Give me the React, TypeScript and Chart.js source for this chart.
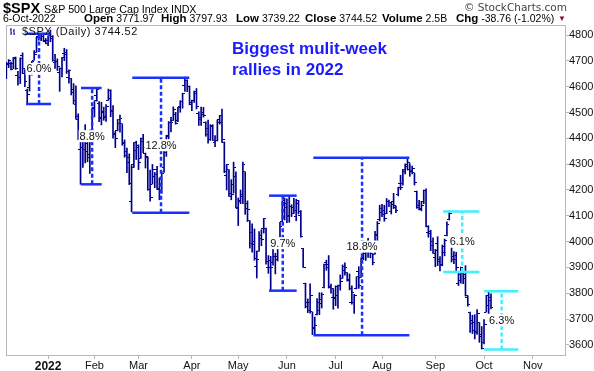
import React, { useEffect, useRef } from 'react';
import { Chart, registerables } from 'chart.js';

Chart.register(...registerables);

// ---- trading days (Dec 7 2021 .. Oct 6 2022) ----
const DAYS_2021_12 = [7, 8, 9, 10, 13, 14, 15, 16, 17, 20, 21, 22, 23, 27, 28, 29, 30, 31];
const DAYS_2022_01 = [3, 4, 5, 6, 7, 10, 11, 12, 13, 14, 18, 19, 20, 21, 24, 25, 26, 27, 28, 31];
const DAYS_2022_02 = [1, 2, 3, 4, 7, 8, 9, 10, 11, 14, 15, 16, 17, 18, 22, 23, 24, 25, 28];
const DAYS_2022_03 = [1, 2, 3, 4, 7, 8, 9, 10, 11, 14, 15, 16, 17, 18, 21, 22, 23, 24, 25, 28, 29, 30, 31];
const DAYS_2022_04 = [1, 4, 5, 6, 7, 8, 11, 12, 13, 14, 18, 19, 20, 21, 22, 25, 26, 27, 28, 29];
const DAYS_2022_05 = [2, 3, 4, 5, 6, 9, 10, 11, 12, 13, 16, 17, 18, 19, 20, 23, 24, 25, 26, 27, 31];
const DAYS_2022_06 = [1, 2, 3, 6, 7, 8, 9, 10, 13, 14, 15, 16, 17, 21, 22, 23, 24, 27, 28, 29, 30];
const DAYS_2022_07 = [1, 5, 6, 7, 8, 11, 12, 13, 14, 15, 18, 19, 20, 21, 22, 25, 26, 27, 28, 29];
const DAYS_2022_08 = [1, 2, 3, 4, 5, 8, 9, 10, 11, 12, 15, 16, 17, 18, 19, 22, 23, 24, 25, 26, 29, 30, 31];
const DAYS_2022_09 = [1, 2, 6, 7, 8, 9, 12, 13, 14, 15, 16, 19, 20, 21, 22, 23, 26, 27, 28, 29, 30];
const DAYS_2022_10 = [3, 4, 5, 6];

const MONTHS: [string, number[]][] = [
  ['2021-12', DAYS_2021_12], ['2022-01', DAYS_2022_01], ['2022-02', DAYS_2022_02],
  ['2022-03', DAYS_2022_03], ['2022-04', DAYS_2022_04], ['2022-05', DAYS_2022_05],
  ['2022-06', DAYS_2022_06], ['2022-07', DAYS_2022_07], ['2022-08', DAYS_2022_08],
  ['2022-09', DAYS_2022_09], ['2022-10', DAYS_2022_10],
];
const DATES: string[] = MONTHS.flatMap(([m, ds]) => ds.map((d) => `${m}-${String(d).padStart(2, '0')}`));

// ---- OHLC ----
const OPEN = [
  4631, 4690, 4691, 4688, 4711, 4642, 4637, 4719, 4652, 4587, 4595, 4650, 4703, 4733, 4795, 4788, 4795, 4776,
  4778, 4804, 4788, 4693, 4697, 4655, 4669, 4728, 4733, 4637, 4632, 4588, 4548, 4472, 4357, 4366, 4408, 4380, 4337, 4431,
  4519, 4566, 4535, 4482, 4505, 4480, 4547, 4553, 4506, 4413, 4430, 4456, 4456, 4385, 4332, 4324, 4155, 4298, 4354,
  4364, 4322, 4401, 4343, 4327, 4202, 4223, 4253, 4279, 4202, 4189, 4289, 4346, 4407, 4462, 4469, 4494, 4470, 4522, 4541, 4603, 4624, 4599,
  4540, 4547, 4572, 4495, 4474, 4494, 4462, 4438, 4397, 4449, 4385, 4390, 4473, 4490, 4385, 4255, 4279, 4187, 4222, 4253,
  4130, 4159, 4181, 4270, 4128, 4081, 4035, 3990, 3903, 3963, 4013, 4052, 4052, 3900, 3927, 3920, 3943, 3929, 3985, 4077, 4151,
  4149, 4096, 4137, 4134, 4097, 4148, 4102, 3974, 3838, 3763, 3765, 3728, 3665, 3716, 3733, 3774, 3821, 3920, 3913, 3826, 3785,
  3781, 3792, 3831, 3858, 3888, 3880, 3851, 3763, 3764, 3818, 3883, 3861, 3935, 3955, 3999, 3966, 3953, 3951, 4027, 4087,
  4112, 4105, 4108, 4154, 4116, 4156, 4133, 4181, 4227, 4225, 4270, 4290, 4281, 4273, 4266, 4195, 4133, 4126, 4154, 4199, 4034, 4041, 4000,
  3937, 3994, 3931, 3910, 3959, 4022, 4084, 3983, 3941, 3932, 3836, 3849, 3875, 3871, 3782, 3727, 3682, 3687, 3651, 3687, 3633,
  3609, 3727, 3753, 3772,
];
const HIGH = [
  4694, 4705, 4695, 4713, 4715, 4660, 4712, 4731, 4666, 4591, 4652, 4698, 4740, 4791, 4807, 4804, 4808, 4787,
  4797, 4819, 4798, 4725, 4708, 4673, 4714, 4749, 4744, 4665, 4632, 4612, 4603, 4495, 4417, 4411, 4453, 4429, 4432, 4517,
  4546, 4595, 4542, 4540, 4521, 4531, 4591, 4588, 4527, 4427, 4473, 4490, 4456, 4394, 4362, 4340, 4295, 4385, 4389,
  4375, 4401, 4416, 4343, 4328, 4277, 4299, 4268, 4292, 4247, 4271, 4358, 4412, 4465, 4481, 4522, 4501, 4520, 4546, 4575, 4637, 4627, 4603,
  4548, 4583, 4593, 4503, 4521, 4520, 4464, 4471, 4453, 4453, 4411, 4471, 4489, 4513, 4386, 4299, 4279, 4240, 4308, 4270,
  4169, 4200, 4308, 4270, 4158, 4081, 4069, 4049, 3964, 4039, 4046, 4090, 4052, 3946, 3943, 3981, 3955, 3999, 4075, 4158, 4169,
  4166, 4177, 4143, 4168, 4164, 4160, 4120, 3974, 3839, 3778, 3837, 3728, 3708, 3779, 3802, 3802, 3913, 3928, 3946, 3836, 3818,
  3829, 3832, 3871, 3910, 3918, 3880, 3875, 3829, 3796, 3864, 3903, 3937, 3975, 3999, 4013, 3976, 3954, 4040, 4078, 4141,
  4144, 4141, 4167, 4161, 4152, 4187, 4138, 4211, 4257, 4280, 4301, 4325, 4302, 4293, 4266, 4196, 4160, 4156, 4200, 4204, 4062, 4044, 4015,
  3970, 4019, 3942, 3987, 4010, 4077, 4119, 3986, 3961, 3959, 3880, 3901, 3877, 3907, 3790, 3727, 3715, 3717, 3737, 3687, 3671,
  3698, 3792, 3807, 3798,
];
const LOW = [
  4631, 4674, 4665, 4670, 4667, 4606, 4612, 4651, 4600, 4532, 4583, 4645, 4703, 4733, 4780, 4778, 4775, 4766,
  4759, 4774, 4699, 4671, 4663, 4582, 4638, 4701, 4651, 4614, 4568, 4533, 4474, 4395, 4222, 4287, 4305, 4309, 4264, 4414,
  4483, 4544, 4465, 4452, 4470, 4466, 4547, 4484, 4401, 4364, 4429, 4424, 4373, 4327, 4267, 4221, 4115, 4287, 4318,
  4279, 4322, 4345, 4285, 4199, 4157, 4223, 4209, 4202, 4162, 4187, 4268, 4330, 4390, 4425, 4469, 4455, 4465, 4501, 4517, 4582, 4581, 4530,
  4507, 4539, 4514, 4450, 4450, 4482, 4408, 4381, 4392, 4392, 4368, 4390, 4455, 4384, 4267, 4200, 4175, 4162, 4188, 4131,
  4062, 4147, 4147, 4106, 4078, 3975, 3959, 3928, 3859, 3963, 3984, 4033, 3913, 3877, 3810, 3909, 3875, 3925, 3985, 4077, 4084,
  4073, 4075, 4097, 4109, 4081, 4107, 4017, 3900, 3743, 3725, 3723, 3640, 3637, 3716, 3717, 3743, 3821, 3889, 3820, 3800, 3738,
  3752, 3742, 3812, 3858, 3870, 3847, 3813, 3758, 3722, 3817, 3819, 3861, 3930, 3927, 3939, 3937, 3910, 3951, 3993, 4080,
  4097, 4079, 4108, 4135, 4107, 4128, 4112, 4177, 4201, 4219, 4262, 4277, 4253, 4262, 4219, 4129, 4123, 4119, 4147, 4057, 4017, 3965, 3954,
  3903, 3907, 3887, 3907, 3945, 4022, 4084, 3921, 3915, 3888, 3830, 3839, 3837, 3789, 3750, 3648, 3644, 3623, 3641, 3610, 3584,
  3604, 3727, 3722, 3739,
];
const CLOSE = [
  4686, 4701, 4667, 4712, 4669, 4634, 4709, 4669, 4621, 4568, 4650, 4697, 4726, 4791, 4786, 4793, 4778, 4766,
  4797, 4794, 4701, 4696, 4677, 4670, 4713, 4726, 4659, 4663, 4577, 4533, 4483, 4398, 4410, 4357, 4350, 4327, 4432, 4516,
  4546, 4590, 4478, 4501, 4484, 4522, 4587, 4504, 4419, 4401, 4472, 4475, 4380, 4349, 4305, 4226, 4288, 4385, 4374,
  4306, 4387, 4363, 4329, 4201, 4171, 4278, 4260, 4204, 4173, 4262, 4358, 4412, 4463, 4461, 4512, 4456, 4520, 4543, 4575, 4632, 4602, 4530,
  4546, 4583, 4525, 4481, 4500, 4488, 4413, 4397, 4447, 4392, 4391, 4463, 4460, 4394, 4272, 4297, 4175, 4184, 4288, 4132,
  4155, 4175, 4300, 4147, 4123, 3991, 4001, 3936, 3930, 4024, 4008, 4088, 3923, 3901, 3901, 3974, 3941, 3979, 4058, 4158, 4132,
  4101, 4177, 4109, 4121, 4161, 4116, 4018, 3901, 3750, 3735, 3790, 3667, 3675, 3765, 3760, 3796, 3912, 3900, 3821, 3819, 3785,
  3825, 3831, 3845, 3903, 3899, 3855, 3819, 3802, 3790, 3863, 3831, 3937, 3960, 3999, 3962, 3967, 3921, 4024, 4072, 4130,
  4119, 4091, 4155, 4152, 4145, 4140, 4122, 4210, 4208, 4280, 4297, 4305, 4275, 4284, 4228, 4138, 4128, 4141, 4199, 4058, 4031, 3986, 3955,
  3967, 3924, 3909, 3980, 4006, 4067, 4110, 3932, 3946, 3901, 3873, 3900, 3856, 3790, 3758, 3693, 3655, 3647, 3720, 3640, 3586,
  3679, 3791, 3783, 3745,
];

// ---- axes ----
const X_TICK_INDEX = [18, 38, 57, 80, 100, 121, 142, 162, 185, 206, 227];
const X_TICK_LABELS = ['2022', 'Feb', 'Mar', 'Apr', 'May', 'Jun', 'Jul', 'Aug', 'Sep', 'Oct', 'Nov'];
const Y_TICKS = [3600, 3700, 3800, 3900, 4000, 4100, 4200, 4300, 4400, 4500, 4600, 4700, 4800];
const X_MIN = -0.15;
const X_MAX = 241.35;
const Y_MIN = 3557;
const Y_MAX = 4839;

// ---- rally brackets (day index / price) ----
const BRACKET_LABELS = ['6.0%', '8.8%', '12.8%', '9.7%', '18.8%', '6.1%', '6.3%'];
const BRACKET_START = [8.5, 32.2, 54.3, 113.3, 132.4, 188.4, 206.1];
const BRACKET_END = [19.3, 41.1, 78.9, 125.2, 173.8, 204.0, 220.8];
const BRACKET_MID = [14.1, 37.0, 66.7, 119.2, 153.4, 196.6, 213.6];
const BRACKET_LOW = [4533, 4222, 4112, 3810, 3637, 3882, 3582];
const BRACKET_HIGH = [4805, 4595, 4635, 4178, 4325, 4117, 3808];

// styles
const NAVY = '#00008c';
const BLUE = '#1a30ff';
const CYAN = '#3ff0ff';
const BRACKET_COLORS = [BLUE, BLUE, BLUE, BLUE, BLUE, CYAN, CYAN];
const FONT = 'Arial, "Liberation Sans", sans-serif';

const borderPlugin = {
  id: 'plotBorder',
  beforeDatasetsDraw(chart: any) {
    const { ctx, chartArea: a } = chart;
    ctx.save();
    ctx.strokeStyle = '#b8b8b8';
    ctx.lineWidth = 1;
    ctx.strokeRect(Math.round(a.left) + 0.5, Math.round(a.top) + 0.5, Math.round(a.right - a.left) - 1, Math.round(a.bottom - a.top) - 1);
    ctx.restore();
  },
};

const labelPlugin = {
  id: 'bracketLabels',
  afterDatasetsDraw(chart: any) {
    const { ctx } = chart;
    const xs = chart.scales.x;
    const ys = chart.scales.y;
    ctx.save();
    ctx.font = `11px ${FONT}`;
    ctx.textAlign = 'center';
    ctx.textBaseline = 'middle';
    BRACKET_LABELS.forEach((t, i) => {
      const px = xs.getPixelForValue(BRACKET_MID[i]);
      const py = (ys.getPixelForValue(BRACKET_LOW[i]) + ys.getPixelForValue(BRACKET_HIGH[i])) / 2;
      const w = ctx.measureText(t).width;
      ctx.fillStyle = '#ffffff';
      ctx.fillRect(px - w / 2 - 1, py - 6, w + 2, 12);
      ctx.fillStyle = '#111111';
      ctx.fillText(t, px, py + 0.5);
    });
    ctx.restore();
  },
};

function makeTick(left: boolean): HTMLCanvasElement {
  const c = document.createElement('canvas');
  c.width = 5;
  c.height = 1;
  const g = c.getContext('2d')!;
  g.fillStyle = NAVY;
  g.fillRect(left ? 0 : 3, 0, 2, 1);
  return c;
}

export default function App() {
  const ref = useRef<HTMLCanvasElement>(null);

  useEffect(() => {
    const openTick = makeTick(true);
    const closeTick = makeTick(false);

    const bracketSets = BRACKET_LABELS.flatMap((_, i) => {
      const base = {
        type: 'line' as const,
        borderColor: BRACKET_COLORS[i],
        backgroundColor: BRACKET_COLORS[i],
        borderWidth: 2.5,
        pointRadius: 0,
        fill: false,
        order: 1,
      };
      return [
        { ...base, data: [{ x: BRACKET_START[i], y: BRACKET_HIGH[i] }, { x: BRACKET_END[i], y: BRACKET_HIGH[i] }] },
        { ...base, data: [{ x: BRACKET_START[i], y: BRACKET_LOW[i] }, { x: BRACKET_END[i], y: BRACKET_LOW[i] }] },
        { ...base, borderDash: [4, 2.5], data: [{ x: BRACKET_MID[i], y: BRACKET_LOW[i] }, { x: BRACKET_MID[i], y: BRACKET_HIGH[i] }] },
      ];
    });

    const chart = new Chart(ref.current!, {
      type: 'scatter',
      data: {
        datasets: [
          {
            type: 'bar',
            data: DATES.map((_, i) => ({ x: i, y: [LOW[i], HIGH[i]] })),
            backgroundColor: NAVY,
            borderWidth: 0,
            barThickness: 1,
            grouped: false,
            order: 3,
          } as any,
          {
            type: 'scatter',
            data: DATES.map((_, i) => ({ x: i, y: OPEN[i] })),
            pointStyle: openTick,
            pointRadius: 2,
            order: 3,
          } as any,
          {
            type: 'scatter',
            data: DATES.map((_, i) => ({ x: i, y: CLOSE[i] })),
            pointStyle: closeTick,
            pointRadius: 2,
            order: 3,
          } as any,
          ...(bracketSets as any[]),
        ],
      },
      options: {
        animation: false,
        responsive: false,
        devicePixelRatio: 1,
        events: [],
        layout: { padding: { left: 6, top: 25, right: 0, bottom: 0 } },
        plugins: { legend: { display: false }, tooltip: { enabled: false } },
        scales: {
          x: {
            type: 'linear',
            min: X_MIN,
            max: X_MAX,
            offset: false,
            afterBuildTicks: (s: any) => {
              s.ticks = X_TICK_INDEX.map((v) => ({ value: v }));
            },
            afterFit: (s: any) => {
              s.height = 15;
            },
            grid: { drawOnChartArea: false, drawTicks: true, tickLength: 3, color: '#b8b8b8', offset: false },
            border: { display: false },
            ticks: {
              autoSkip: false,
              maxRotation: 0,
              padding: 0,
              color: '#111',
              font: (c: any) => (c.index === 0 ? { family: FONT, size: 12, weight: 'bold' } : { family: FONT, size: 11 }),
              callback: (_v: any, i: number) => X_TICK_LABELS[i],
            },
          },
          y: {
            type: 'linear',
            position: 'right',
            min: Y_MIN,
            max: Y_MAX,
            afterBuildTicks: (s: any) => {
              s.ticks = Y_TICKS.map((v) => ({ value: v }));
            },
            afterFit: (s: any) => {
              s.width = 28;
            },
            grid: { drawOnChartArea: false, drawTicks: true, tickLength: 3, color: '#b8b8b8' },
            border: { display: false },
            ticks: {
              padding: 0,
              color: '#111',
              font: { family: FONT, size: 11 },
              callback: (v: any) => String(v),
            },
          },
        },
      },
      plugins: [borderPlugin, labelPlugin],
    } as any);

    return () => chart.destroy();
  }, []);

  return (
    <div style={{ position: 'fixed', left: 0, top: 0, width: 594, height: 371, background: '#fff', overflow: 'hidden' }}>
      <canvas ref={ref} width={594} height={371} style={{ position: 'absolute', left: 0, top: 0, width: 594, height: 371 }} />
      <svg width={594} height={371} style={{ position: 'absolute', left: 0, top: 0, pointerEvents: 'none' }} fontFamily={FONT}>
        <text x={3} y={13} fontSize={14.5} fontWeight="bold" fill="#000">$SPX</text>
        <text x={44} y={13} fontSize={10.7} fill="#000">S&amp;P 500 Large Cap Index INDX</text>
        <text x={567} y={11} fontSize={10.5} fill="#444" textAnchor="end" fontFamily='"DejaVu Sans", sans-serif'>© StockCharts.com</text>
        <text y={22} fontSize={10.5} fill="#000">
          <tspan x={3}>6-Oct-2022</tspan>
          <tspan x={84} fontWeight="bold" fontSize={11.5}>Open</tspan><tspan> 3771.97</tspan>
          <tspan x={161} fontWeight="bold" fontSize={11.5}>High</tspan><tspan> 3797.93</tspan>
          <tspan x={236} fontWeight="bold" fontSize={11.5}>Low</tspan><tspan> 3739.22</tspan>
          <tspan x={305} fontWeight="bold" fontSize={11.5}>Close</tspan><tspan> 3744.52</tspan>
          <tspan x={382} fontWeight="bold" fontSize={11.5}>Volume</tspan><tspan> 2.5B</tspan>
          <tspan x={456} fontWeight="bold" fontSize={11.5}>Chg</tspan><tspan> -38.76 (-1.02%)</tspan>
        </text>
        <text x={558} y={21} fontSize={8} fill="#990033">▼</text>
        <path d="M11 28 V35 M10 30 H11 M11 33 H12 M14 29 V35 M13 31 H14 M14 34 H15" stroke={NAVY} strokeWidth={1} fill="none" />
        <text x={22} y={35} fontSize={11} fill="#111" letterSpacing={0.5}>$SPX (Daily) 3744.52</text>
        <text fontSize={17} fontWeight="bold" fill="#1a1aff">
          <tspan x={232} y={54}>Biggest mulit-week</tspan>
          <tspan x={232} y={75}>rallies in 2022</tspan>
        </text>
      </svg>
    </div>
  );
}
